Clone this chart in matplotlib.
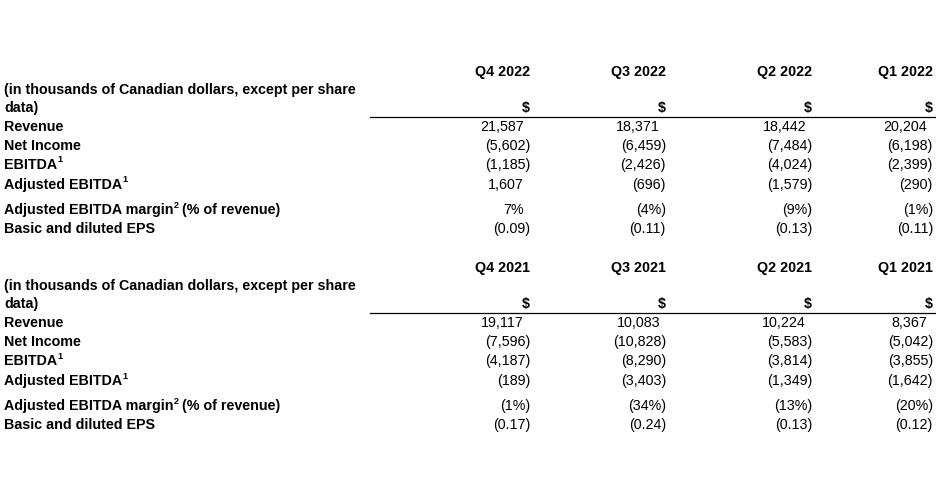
import matplotlib
matplotlib.use("Agg")
import matplotlib.pyplot as plt

plt.rcParams['font.family'] = ['Liberation Sans', 'DejaVu Sans']

W, H = 936, 490

row_labels = ["Revenue", "Net Income", "EBITDA", "Adjusted EBITDA",
              "Adjusted EBITDA margin", "Basic and diluted EPS"]
row_sup = ["", "", "1", "1", "2", ""]
row_tail = ["", "", "", "", " (% of revenue)", ""]

quarters_2022 = ["Q4 2022", "Q3 2022", "Q2 2022", "Q1 2022"]
values_2022 = [
    ["21,587", "18,371", "18,442", "20,204"],
    ["(5,602)", "(6,459)", "(7,484)", "(6,198)"],
    ["(1,185)", "(2,426)", "(4,024)", "(2,399)"],
    ["1,607", "(696)", "(1,579)", "(290)"],
    ["7%", "(4%)", "(9%)", "(1%)"],
    ["(0.09)", "(0.11)", "(0.13)", "(0.11)"],
]
quarters_2021 = ["Q4 2021", "Q3 2021", "Q2 2021", "Q1 2021"]
values_2021 = [
    ["19,117", "10,083", "10,224", "8,367"],
    ["(7,596)", "(10,828)", "(5,583)", "(5,042)"],
    ["(4,187)", "(8,290)", "(3,814)", "(3,855)"],
    ["(189)", "(3,403)", "(1,349)", "(1,642)"],
    ["(1%)", "(34%)", "(13%)", "(20%)"],
    ["(0.17)", "(0.24)", "(0.13)", "(0.12)"],
]

col_right = [530, 666, 812, 933]
row_offsets = [0, 19, 38, 58, 83, 102]
FS = 10.3

fig = plt.figure(figsize=(W / 100, H / 100), dpi=100)
fig.patch.set_facecolor("white")


def txt(x, y, s, ha="left", size=FS, weight="normal"):
    fig.text(x / W, 1 - y / H, s, ha=ha, va="center", fontsize=size, fontweight=weight)


def block(top, quarters, values):
    for q, xr in zip(quarters, col_right):
        txt(xr, top, q, ha="right", weight="bold")
        txt(xr, top + 36, "$", ha="right", weight="bold")
    txt(4, top + 18, "(in thousands of Canadian dollars, except per share", weight="bold")
    txt(4, top + 36, "data)", weight="bold")
    fig.add_artist(plt.Line2D([370 / W, 936 / W], [1 - (top + 45) / H] * 2,
                              color="black", lw=0.9))
    for i, lab in enumerate(row_labels):
        y = top + 55 + row_offsets[i]
        t = fig.text(4 / W, 1 - y / H, lab, ha="left", va="center",
                     fontsize=FS, fontweight="bold")
        if row_sup[i]:
            fig.canvas.draw()
            bb = t.get_window_extent()
            fig.text((bb.x1 + 0.5) / W, 1 - (y - 5) / H, row_sup[i], ha="left",
                     va="center", fontsize=6.5, fontweight="bold")
            if row_tail[i]:
                fig.text((bb.x1 + 5) / W, 1 - y / H, row_tail[i], ha="left",
                         va="center", fontsize=FS, fontweight="bold")
        for v, xr in zip(values[i], col_right):
            off = 0 if v.endswith(")") else 6
            txt(xr - off, y, v, ha="right")


block(72, quarters_2022, values_2022)
block(268, quarters_2021, values_2021)

fig.savefig("out.png", dpi=100)
